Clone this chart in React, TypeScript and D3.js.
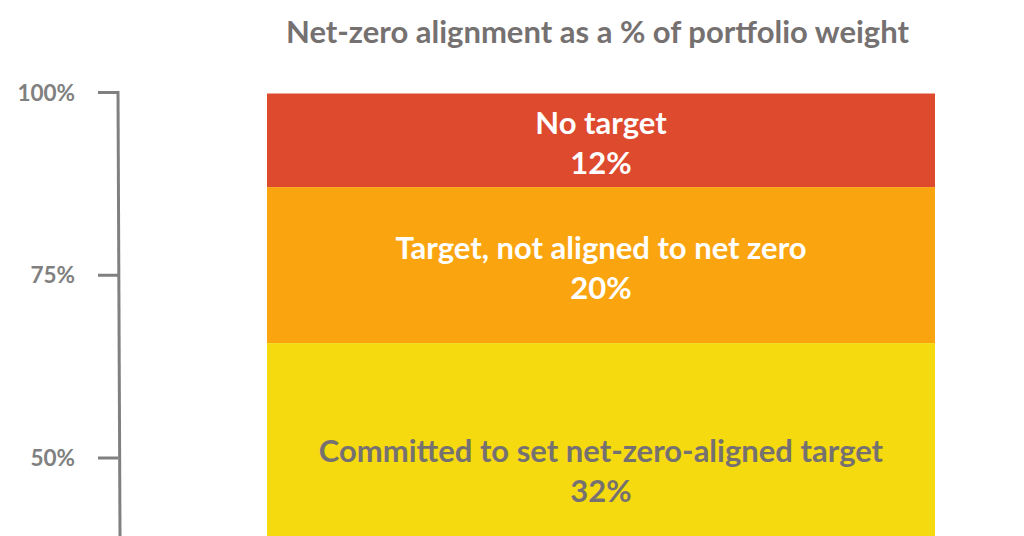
import { scaleBand, scaleLinear } from "d3"

// stacked from the top of the bar down
const segmentLabels = ["No target", "Target, not aligned to net zero", "Committed to set net-zero-aligned target"]
const segmentValues = [12, 20, 32]
const segmentColors = ["#de4a2e", "#faa50f", "#f6da10"]
const segmentTextColors = ["#ffffff", "#ffffff", "#767171"]
const axisTicks = [100, 75, 50]
const categories = ["Portfolio"]

const title = "Net-zero alignment as a % of portfolio weight"

const width = 1024
const height = 536
const font = "Lato, 'Open Sans', sans-serif"

export default function App() {
  // the source graphic is not drawn to one scale: the axis and the bar each get their own
  const axisY = scaleLinear().domain([50, 100]).range([458, 92.5])
  const barY = scaleLinear().domain([0, 100]).range([873.5, 93.5])
  const x = scaleBand().domain(categories).range([267, 935]).padding(0)

  let top = 100
  const segments = segmentValues.map((value, i) => {
    const y0 = barY(top)
    const y1 = barY(top - value)
    top -= value
    return { label: segmentLabels[i], value, color: segmentColors[i], text: segmentTextColors[i], y0, y1 }
  })

  const axisX = 118
  const bx = x(categories[0]) ?? 0
  const bw = x.bandwidth()

  return (
    <svg
      width={width}
      height={height}
      viewBox={`0 0 ${width} ${height}`}
      style={{ position: "fixed", left: 0, top: 0, background: "#ffffff" }}
      fontFamily={font}
    >
      <rect width={width} height={height} fill="#ffffff" />
      <text x={597.5} y={43} textAnchor="middle" fontSize="31" fontWeight="700" fill="#767171">
        {title}
      </text>

      {segments.map((seg) => {
        const mid = (seg.y0 + seg.y1) / 2
        return (
          <g key={seg.label}>
            <rect x={bx} y={seg.y0} width={bw} height={seg.y1 - seg.y0} fill={seg.color} />
            <text x={bx + bw / 2} y={mid - 6} textAnchor="middle" fontSize="31" fontWeight="700" fill={seg.text}>
              {seg.label}
            </text>
            <text x={bx + bw / 2} y={mid + 34} textAnchor="middle" fontSize="31" fontWeight="700" fill={seg.text}>
              {seg.value}%
            </text>
          </g>
        )
      })}

      <line x1={axisX} x2={axisX + 2} y1={axisY(100) - 1.5} y2={height} stroke="#808080" strokeWidth="3" />
      {axisTicks.map((tick) => (
        <g key={tick}>
          <line x1={axisX - 20} x2={axisX} y1={axisY(tick)} y2={axisY(tick)} stroke="#808080" strokeWidth="3" />
          <text x={75} y={axisY(tick)} dy="0.36em" textAnchor="end" fontSize="22.5" fontWeight="700" fill="#808080">
            {tick}%
          </text>
        </g>
      ))}
    </svg>
  )
}
